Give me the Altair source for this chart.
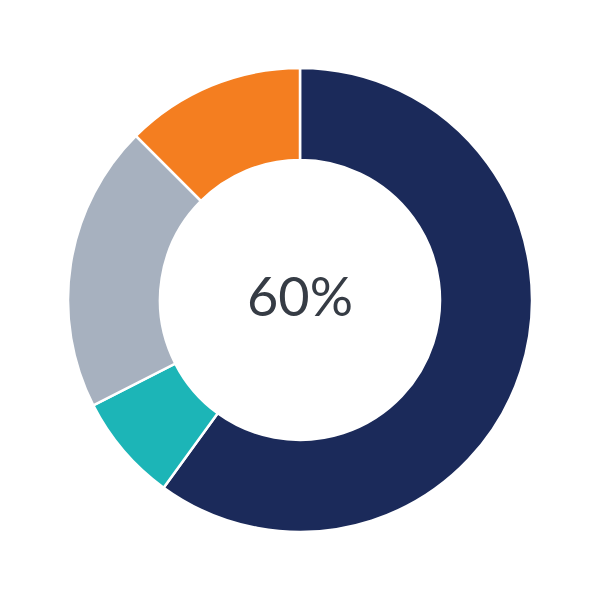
import altair as alt
import pandas as pd

categories = ["A", "B", "C", "D"]
values = [60, 7.5, 20, 12.5]
colors = ["#1b2a5a", "#1cb5b7", "#a7b1bf", "#f47e20"]
center_label = "60%"

df = pd.DataFrame({"cat": categories, "value": values, "order": list(range(len(categories)))})

base = alt.Chart(df)
arc = base.mark_arc(outerRadius=232, innerRadius=140, stroke="white", strokeWidth=2.5).encode(
    theta=alt.Theta("value:Q", stack=True),
    color=alt.Color("cat:N", scale=alt.Scale(domain=categories, range=colors), legend=None),
    order=alt.Order("order:Q"),
)

text = alt.Chart(pd.DataFrame({"t": [center_label]})).mark_text(
    font="Lato", fontSize=54, fontWeight=400, color="#363c45", baseline="middle", align="center"
).encode(text="t:N", x=alt.value(292), y=alt.value(292))

chart = alt.layer(arc, text).properties(
    width=584, height=584, autosize=alt.AutoSizeParams(type="fit", contains="padding"), padding=0
).configure_view(stroke=None)

chart.save("out.html", embed_options={"renderer": "svg", "actions": False})
